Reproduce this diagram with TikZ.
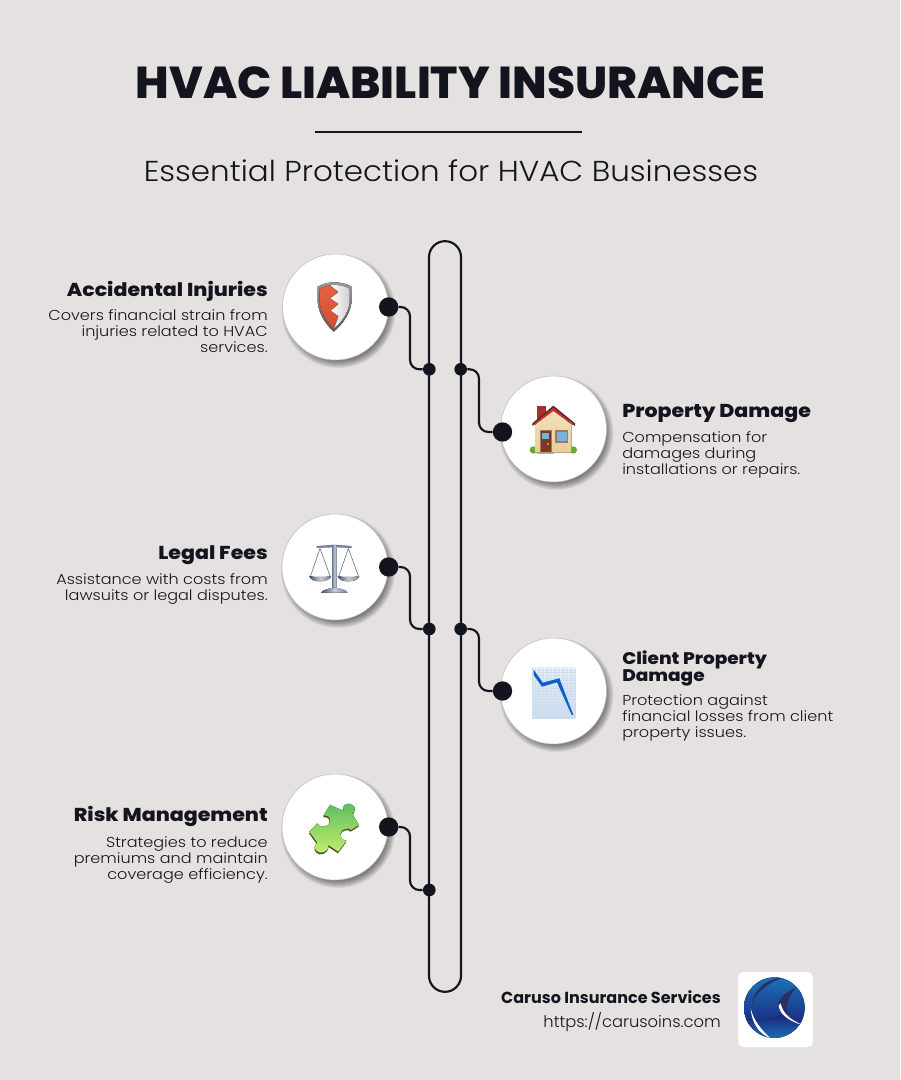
\documentclass[tikz,border=0pt]{standalone}
\usepackage{fontspec}
\usepackage{tikz}
\setmainfont{Poppins}
\newfontfamily\lightfont[FakeStretch=1.117]{Poppins Light}
\newfontfamily\subfont[FakeStretch=1.075]{Poppins Light}
\newfontfamily\headfont[FakeStretch=1.10]{Poppins ExtraBold}
\newfontfamily\titlefont[FakeStretch=1.013]{Poppins ExtraBold}
\newfontfamily\footfont[FakeStretch=1.02]{Poppins Light}
\newcommand{\headsize}{\fontsize{14}{12.75}\selectfont\headfont\setlength{\lineskiplimit}{-20pt}}
\newcommand{\smallheadsize}{\fontsize{12.6}{12.75}\selectfont\headfont\setlength{\lineskiplimit}{-20pt}}
\definecolor{paper}{RGB}{228,225,224}
\definecolor{ink}{RGB}{20,20,30}
\definecolor{shieldred}{RGB}{232,100,70}
\definecolor{shielddeep}{RGB}{210,75,48}
\definecolor{roofred}{RGB}{205,45,35}
\definecolor{brick}{RGB}{165,50,40}
\definecolor{walltop}{RGB}{245,225,190}
\definecolor{wallbot}{RGB}{232,205,150}
\definecolor{doorbrown}{RGB}{125,55,35}
\definecolor{glassblue}{RGB}{115,180,225}
\definecolor{framebrown}{RGB}{150,125,100}
\definecolor{bushgreen}{RGB}{105,170,45}
\definecolor{steel}{RGB}{115,130,155}
\definecolor{steeldark}{RGB}{65,80,105}
\definecolor{steellite}{RGB}{195,203,215}
\definecolor{chartblue}{RGB}{10,95,200}
\definecolor{gridblue}{RGB}{205,222,240}
\definecolor{sheettop}{RGB}{238,243,248}
\definecolor{sheetbot}{RGB}{205,218,232}
\definecolor{puzzletop}{RGB}{95,190,95}
\definecolor{puzzlebot}{RGB}{195,238,110}
\definecolor{puzzleedge}{RGB}{75,85,35}
\definecolor{logoblue}{RGB}{25,115,185}
\definecolor{logonavy}{RGB}{28,40,125}
\definecolor{logodark}{RGB}{45,45,100}
\tikzset{
	titletext/.style={inner sep=0pt,text=ink,font=\fontsize{33.5}{40}\selectfont\titlefont},
	subtext/.style={inner sep=0pt,text=ink,font=\fontsize{21.6}{26}\selectfont\subfont},
	headtext/.style={inner sep=0pt,text=ink,font=\headsize},
	smallhead/.style={inner sep=0pt,text=ink,font=\smallheadsize},
	bodytext/.style={inner sep=0pt,text=ink,font=\fontsize{10.8}{12}\selectfont\lightfont},
	iconball/.style={circle,fill=white,draw=black!25,line width=0.4pt,minimum size=79.5pt,inner sep=0pt},
	bigdot/.style={circle,fill=ink,minimum size=14.5pt,inner sep=0pt},
	tapdot/.style={circle,fill=ink,minimum size=9.5pt,inner sep=0pt},
	wire/.style={draw=ink,line width=1.6pt,rounded corners=7pt}
}
\newcommand{\puzzleshape}{(165,105) -- (205,122) .. controls (200,105) and (215,100) .. (225,102) .. controls (240,105) and (245,120) .. (232,132) -- (252,165) -- (228,180) .. controls (222,172) and (200,175) .. (197,190) .. controls (195,205) and (205,212) .. (214,212) -- (190,245) -- (160,225) .. controls (165,235) and (150,250) .. (135,248) .. controls (120,245) and (112,228) .. (127,218) -- (103,185) -- (127,160) .. controls (130,175) and (165,175) .. (165,150) .. controls (165,140) and (155,135) .. (145,137) -- cycle}
\newcommand{\shieldshape}{(143,140) .. controls (160,130) and (178,127) .. (193,127) .. controls (210,127) and (228,130) .. (245,140) -- (245,185) .. controls (240,225) and (215,255) .. (191,275) .. controls (170,255) and (146,225) .. (143,185) -- cycle}
\begin{document}
\begin{tikzpicture}[x=0.75pt,y=0.75pt,yscale=-1,xscale=1]
	\path[use as bounding box,fill=paper] (0,0) rectangle (900,1080);

	% Title
	\node (title) [titletext] at (450.5,83) {HVAC LIABILITY INSURANCE};
	\node (subtitle) [subtext] at (451,171) {Essential Protection for HVAC Businesses};
	\coordinate (ruleL) at (315,132.5);
	\coordinate (ruleR) at (582,132.5);
	\draw [draw=ink,line width=1.5pt] (ruleL) -- (ruleR);

	% Track
	\node (track) [draw=ink,line width=1.6pt,rounded corners=12pt,minimum width=24pt,minimum height=563pt,inner sep=0pt] at (445,616.5) {};

	% Ball shadows
	\foreach \ballx/\bally in {335.5/307,553.5/429,335/567,553.5/691,335/827}
		\foreach \rad in {49,50,...,57}
			\fill [black,opacity=0.065] (\ballx+3,\bally+4) circle (\rad);

	% Icon balls
	\node (ballA) [iconball] at (335.5,307) {};
	\node (ballB) [iconball] at (553.5,429) {};
	\node (ballC) [iconball] at (335,567) {};
	\node (ballD) [iconball] at (553.5,691) {};
	\node (ballE) [iconball] at (335,827) {};

	% Dots
	\node (dotA) [bigdot] at (388.7,307) {};
	\node (dotB) [bigdot] at (502.5,432) {};
	\node (dotC) [bigdot] at (388.7,567) {};
	\node (dotD) [bigdot] at (502.5,691) {};
	\node (dotE) [bigdot] at (388.7,827) {};
	\node (tapA) [tapdot] at (429.3,369.3) {};
	\node (tapB) [tapdot] at (460.7,369.3) {};
	\node (tapC) [tapdot] at (429.3,629) {};
	\node (tapD) [tapdot] at (460.7,629) {};
	\node (tapE) [tapdot] at (429.3,890) {};

	% Connectors
	\coordinate (bendA) at (410,340);
	\coordinate (bendB) at (479,400);
	\coordinate (bendC) at (410,600);
	\coordinate (bendD) at (479,660);
	\coordinate (bendE) at (410,860);
	\draw [wire] (dotA) -| (bendA) |- (tapA);
	\draw [wire] (tapB) -| (bendB) |- (dotB);
	\draw [wire] (dotC) -| (bendC) |- (tapC);
	\draw [wire] (tapD) -| (bendD) |- (dotD);
	\draw [wire] (dotE) -| (bendE) |- (tapE);

	% Left texts
	\node (headA) [headtext,anchor=east] at (268,291) {Accidental Injuries};
	\node (bodyA) [bodytext,anchor=north east,align=right] at (268,309) {Covers financial strain from\\injuries related to HVAC\\services.};
	\node (headC) [headtext,anchor=east] at (268,555) {Legal Fees};
	\node (bodyC) [bodytext,anchor=north east,align=right] at (268,573) {Assistance with costs from\\lawsuits or legal disputes.};
	\node (headE) [headtext,anchor=east] at (268,816) {Risk Management};
	\node (bodyE) [bodytext,anchor=north east,align=right] at (268,836) {Strategies to reduce\\premiums and maintain\\coverage efficiency.};

	% Right texts
	\node (headB) [headtext,anchor=west] at (622,413) {Property Damage};
	\node (bodyB) [bodytext,anchor=north west,align=left] at (622,431) {Compensation for\\damages during\\installations or repairs.};
	\node (headD) [smallhead,anchor=north west,align=left] at (622,651) {Client Property\\Damage};
	\node (bodyD) [bodytext,anchor=north west,align=left] at (622,694) {Protection against\\financial losses from client\\property issues.};

	% Footer
	\node (company) [inner sep=0pt,text=ink,anchor=east,font=\fontsize{12}{14}\selectfont\bfseries] at (721,997) {Caruso Insurance Services};
	\node (website) [inner sep=0pt,text=ink,anchor=east,font=\fontsize{12}{14}\selectfont\footfont] at (721,1022) {https://carusoins.com};

	% Shield
	\begin{scope}[shift={(270,240)},scale=0.3333]
		\fill [top color=black!40,bottom color=black!65] \shieldshape;
		\begin{scope}
			\clip [shift={(193.5,195)},scale=0.88,shift={(-193.5,-195)}] \shieldshape;
			\fill [left color=white,right color=black!22] (180,120) rectangle (250,280);
			\fill [top color=shieldred,bottom color=shielddeep] (140,120) -- (180,120) -- (182,138) -- (205,156) -- (180,175) -- (205,192) -- (182,212) -- (205,229) -- (190,270) -- (140,280) -- cycle;
		\end{scope}
	\end{scope}

	% House
	\begin{scope}[shift={(490,370)},scale=0.3333]
		\fill [fill=brick] (142,108) rectangle (168,155);
		\fill [fill=bushgreen] (130,240) circle (11);
		\fill [fill=bushgreen] (250,240) circle (11);
		\fill [fill=black!30] (142,245) rectangle (192,253);
		\fill [top color=walltop,bottom color=wallbot] (135,165) -- (190,118) -- (245,165) -- (245,248) -- (135,248) -- cycle;
		\fill [fill=framebrown] (150,180) rectangle (187,245);
		\fill [fill=doorbrown] (154,184) rectangle (183,245);
		\fill [fill=glassblue] (157,188) rectangle (178,207);
		\fill [fill=yellow!80!orange] (174,222) circle (3);
		\fill [fill=framebrown] (195,180) rectangle (235,218);
		\fill [fill=glassblue] (200,185) rectangle (230,213);
		\fill [fill=black!80] (127,160) -- (190,107) -- (255,160) -- (255,168) -- (190,118) -- (127,168) -- cycle;
		\fill [fill=roofred] (131,161) -- (190,113) -- (251,161) -- (248,165) -- (190,123) -- (134,165) -- cycle;
	\end{scope}

	% Scales
	\begin{scope}[shift={(275,510)},scale=0.3333]
		\draw [draw=steeldark,line width=0.35pt] (135,115) -- (105,203) (135,115) -- (167,203) (220,115) -- (190,203) (220,115) -- (252,203);
		\fill [fill=steel] (125,108) -- (178,104) -- (230,108) -- (230,114) -- (178,112) -- (125,114) -- cycle;
		\fill [left color=steel,right color=steel,middle color=steellite] (172,105) rectangle (185,238);
		\fill [left color=steeldark,right color=steel,middle color=steellite] (103,198) .. controls (115,202) and (155,202) .. (168,198) .. controls (165,210) and (150,214) .. (135,214) .. controls (120,214) and (106,210) .. (103,198) -- cycle;
		\fill [left color=steeldark,right color=steel,middle color=steellite] (188,198) .. controls (200,202) and (240,202) .. (253,198) .. controls (250,210) and (235,214) .. (220,214) .. controls (205,214) and (191,210) .. (188,198) -- cycle;
		\fill [left color=steeldark,right color=steel,middle color=steellite] (138,248) .. controls (145,238) and (165,235) .. (178,233) .. controls (192,235) and (212,238) .. (218,248) -- cycle;
	\end{scope}

	% Chart
	\begin{scope}[shift={(495,635)},scale=0.3333]
		\fill [top color=sheettop,bottom color=sheetbot] (112,98) rectangle (240,250);
		\draw [draw=gridblue,line width=0.12pt,step=8] (112,98) grid (240,250);
		\fill [fill=chartblue] (116,104) -- (143,143) -- (193,130) -- (235,240) -- (230,240) -- (186,142) -- (141,155) -- (116,120) -- cycle;
	\end{scope}

	% Puzzle
	\begin{scope}[shift={(275,770)},scale=0.3333]
		\fill [fill=puzzleedge,shift={(-1,5)}] \puzzleshape;
		\fill [top color=puzzletop,bottom color=puzzlebot] \puzzleshape;
	\end{scope}

	% Logo
	\node (logobox) [fill=white,rounded corners=4pt,minimum size=56.25pt,inner sep=0pt] at (775.5,1009.5) {};
	\begin{scope}[shift={(730,965)},scale=0.3333]
		\begin{scope}
			\clip (133,128) circle (91);
			\fill [top color=logoblue,bottom color=logonavy] (40,35) rectangle (230,180);
			\fill [top color=logonavy,bottom color=logoblue] (40,160) .. controls (90,172) and (130,165) .. (150,150) -- (225,185) -- (230,225) -- (40,225) -- cycle;
			\fill [fill=logodark] (158,38) .. controls (105,40) and (70,80) .. (66,115) .. controls (78,85) and (110,55) .. (158,38) -- cycle;
			\fill [fill=white] (62,130) .. controls (66,175) and (85,205) .. (122,220) .. controls (95,195) and (72,170) .. (62,130) -- cycle;
			\fill [fill=logodark] (198,68) .. controls (165,80) and (142,105) .. (146,125) .. controls (150,135) and (160,145) .. (175,155) .. controls (170,140) and (168,130) .. (172,118) .. controls (175,95) and (190,80) .. (198,68) -- cycle;
			\fill [fill=white] (146,122) .. controls (150,150) and (180,170) .. (218,180) .. controls (185,165) and (160,150) .. (152,115) -- cycle;
		\end{scope}
	\end{scope}
\end{tikzpicture}
\end{document}
